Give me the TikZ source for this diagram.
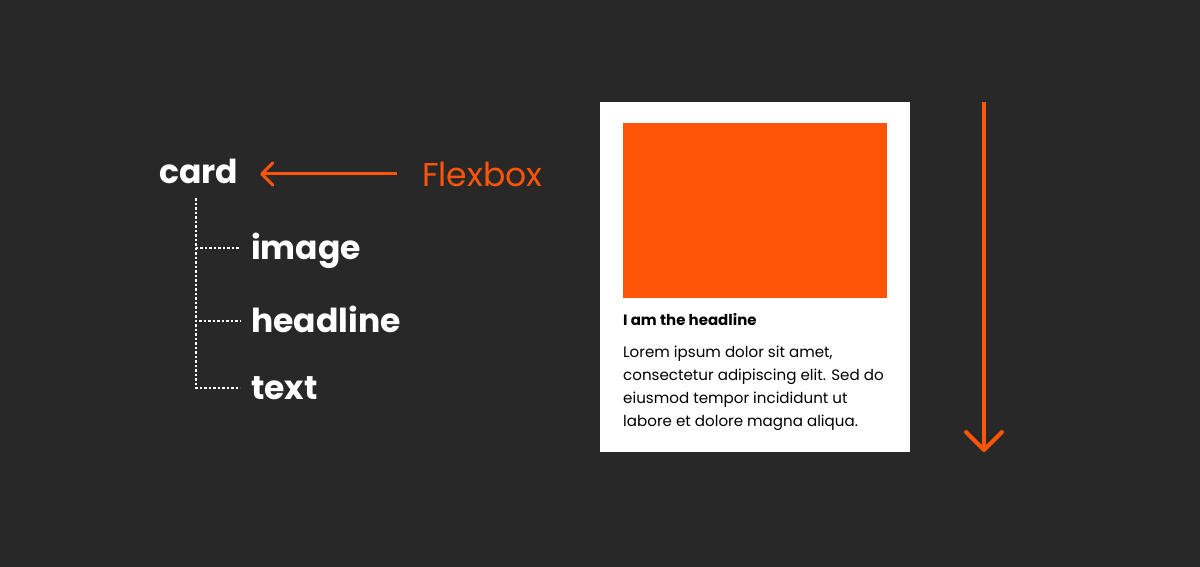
\documentclass[tikz,border=0pt]{standalone}
\usepackage{fontspec}
\setmainfont{Poppins}
\usetikzlibrary{arrows.meta}

\definecolor{bgdark}{HTML}{282828}
\definecolor{flexorange}{HTML}{FF5508}

\begin{document}
\begin{tikzpicture}[x=1pt, y=-1pt,
    item/.style ={anchor=west, inner sep=0pt, text=white, font=\fontsize{33}{33}\selectfont\bfseries, text height=25.5pt, text depth=3pt},
    tree/.style ={white, line width=2.5pt, dash pattern=on 2.5pt off 2pt},
    flow/.style ={flexorange, line width=4pt, -{Straight Barb[length=18pt, width=36pt, line width=4pt, round]}}]
   \fill[bgdark] (0,0) rectangle (1200,567);
   \useasboundingbox (0,0) rectangle (1200,567);

   % tree of the card
   \node[item] (card) at (159,172) {card};
   \node[item] (img) at (251,248) {image};
   \node[item] (head) at (251,321) {headline};
   \node[item] (txt) at (251,388) {text};
   \coordinate (trunk) at (196,198);
   \draw[tree] (trunk) |- (img.west) [shorten >=11pt];
   \draw[tree] (trunk) |- (head.west) [shorten >=11pt];
   \draw[tree] (trunk) |- (txt.west) [shorten >=11pt];

   \node[anchor=west, inner sep=0pt, text=flexorange, font=\fontsize{33}{33}\selectfont] (flex) at (422,174) {Flexbox};
   \draw[flexorange, line width=3pt, -{Straight Barb[length=11pt, width=22pt, line width=3pt, round]}, shorten <=25pt, shorten >=22pt] (flex.west) -- (card.east |- flex.west);

   % the card itself
   \node[fill=white, minimum width=310pt, minimum height=350pt, inner sep=0pt] (box) at (755,277) {};
   \node[fill=flexorange, minimum width=264pt, minimum height=175pt, inner sep=0pt] (pic) at (755,210.5) {};
   \node[anchor=north west, inner sep=0pt, font=\fontsize{15}{18}\selectfont\bfseries] (title) at (623,313) {I am the headline};
   \node[anchor=north west, inner sep=0pt, align=left, font=\fontsize{15.1}{23}\selectfont] (body) at (623,346)
      {Lorem ipsum dolor sit amet,\\consectetur adipiscing elit. Sed do\\eiusmod tempor incididunt ut\\labore et dolore magna aliqua.};

   \coordinate (top) at (984,102);
   \coordinate (bottom) at (984,452);
   \draw[flow] (top) -- (bottom);
\end{tikzpicture}
\end{document}
